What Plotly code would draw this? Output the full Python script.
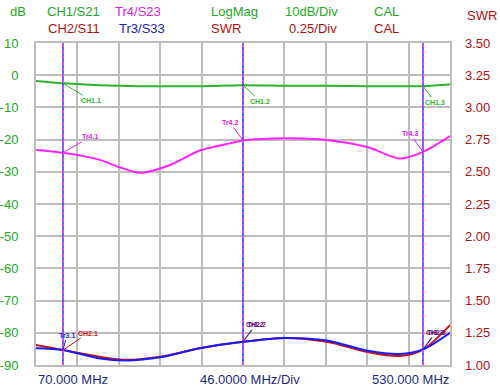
import plotly.graph_objects as go

# ---- data ----
freq_s21 = [70, 100, 140, 185, 250, 300, 347, 393, 439, 500, 530]
s21_db = [-1.8, -2.5, -3.1, -3.4, -3.4, -3.1, -3.3, -3.3, -3.4, -3.4, -2.9]

freq_s23 = [70, 100, 141, 163, 186, 219, 252, 286, 300, 347, 393, 439, 474, 500, 530]
s23_db = [-23.2, -24.1, -26.3, -28.6, -30.3, -27.9, -23.4, -21.1, -20.3, -19.6, -20.1, -22.4, -25.9, -23.8, -18.9]

freq_swr = [70, 100, 141, 171, 208, 252, 300, 347, 393, 439, 474, 500, 530]
s11_swr = [1.155, 1.116, 1.064, 1.04, 1.064, 1.13, 1.18, 1.21, 1.18, 1.10, 1.07, 1.12, 1.31]
s33_swr = [1.13, 1.116, 1.05, 1.035, 1.06, 1.13, 1.18, 1.21, 1.19, 1.11, 1.085, 1.12, 1.25]

marker_freqs = [100, 300, 500]
marker_s21 = [-2.5, -3.1, -3.4]
marker_s23 = [-24.1, -20.3, -23.8]
marker_s11 = [1.116, 1.18, 1.12]
marker_s33 = [1.116, 1.18, 1.12]

db_ticks = [10, 0, -10, -20, -30, -40, -50, -60, -70, -80, -90]
swr_ticks = [3.5, 3.25, 3.0, 2.75, 2.5, 2.25, 2.0, 1.75, 1.5, 1.25, 1.0]

GREEN = "#2db22d"
GREEN_TXT = "#22a822"
MAGENTA = "#ff22ff"
RED = "#cc1111"
RED_TXT = "#b01010"
BLUE = "#1a1aff"
NAVY = "#1a2a80"
GRID = "#bdbdbd"
FONT = "Liberation Sans, Arial, sans-serif"

fig = go.Figure()
fig.add_trace(go.Scatter(x=freq_s21, y=s21_db, mode="lines", line=dict(color=GREEN, width=2, shape="spline", smoothing=0.8), yaxis="y"))
fig.add_trace(go.Scatter(x=freq_s23, y=s23_db, mode="lines", line=dict(color=MAGENTA, width=2, shape="spline", smoothing=0.8), yaxis="y"))
fig.add_trace(go.Scatter(x=freq_swr, y=s11_swr, mode="lines", line=dict(color=RED, width=2, shape="spline", smoothing=0.8), yaxis="y2"))
fig.add_trace(go.Scatter(x=freq_swr, y=s33_swr, mode="lines", line=dict(color=BLUE, width=2, shape="spline", smoothing=0.8), yaxis="y2"))

shapes = []
for f in marker_freqs:
    shapes.append(dict(type="line", xref="x", yref="paper", x0=f, x1=f, y0=0, y1=1,
                       line=dict(color="#4040ee", width=1.6), layer="above"))
    shapes.append(dict(type="line", xref="x", yref="paper", x0=f, x1=f, y0=0, y1=1,
                       line=dict(color="#ee44ee", width=1.6, dash="3px,3px"), layer="above"))

ann = []
def mlabel(x, y, yref, text, color, ax, ay):
    ann.append(dict(x=x, y=y, xref="x", yref=yref, text=text, showarrow=True, arrowhead=0,
                    arrowwidth=1, arrowcolor=color, ax=ax, ay=ay,
                    font=dict(size=7, color=color, family=FONT)))

green_off = [(28, 17), (17, 16), (12, 16)]
for i, f in enumerate(marker_freqs):
    mlabel(f, marker_s21[i], "y", "<b>CH1.%d</b>" % (i + 1), GREEN, *green_off[i])
mag_off = [(27, -16), (-13, -18), (-13, -18)]
for i, f in enumerate(marker_freqs):
    mlabel(f, marker_s23[i], "y", "<b>Tr4.%d</b>" % (i + 1), "#e020e0", *mag_off[i])
red_off = [(25, -17), (13, -17), (13, -17)]
for i, f in enumerate(marker_freqs):
    mlabel(f, marker_s11[i], "y2", "<b>CH2.%d</b>" % (i + 1), RED, *red_off[i])
blue_off = [(4, -15), (12, -17), (12, -17)]
for i, f in enumerate(marker_freqs):
    mlabel(f, marker_s33[i], "y2", "<b>Tr3.%d</b>" % (i + 1), "#2020d0", *blue_off[i])

def txt(x, y, text, color, xanchor="left", size=13):
    ann.append(dict(x=x, y=y, xref="paper", yref="paper", text=text, showarrow=False,
                    xanchor=xanchor, yanchor="middle", font=dict(size=size, color=color, family=FONT)))

# header (paper coords: plot spans x 36..450, y 43..365 px)
def px(xp):
    return (xp - 36) / 414.0
def py(yp):
    return (365 - yp) / 322.0

txt(px(8), py(12), "dB", GREEN_TXT)
txt(px(45), py(12), "CH1/S21", GREEN_TXT)
txt(px(113), py(12), "Tr4/S23", "#e020e0")
txt(px(209), py(12), "LogMag", GREEN_TXT)
txt(px(283), py(12), "10dB/Div", GREEN_TXT)
txt(px(372), py(12), "CAL", GREEN_TXT)
txt(px(46), py(28), "CH2/S11", RED_TXT)
txt(px(117), py(28), "Tr3/S33", "#2020c0")
txt(px(209), py(28), "SWR", RED_TXT)
txt(px(287), py(28), "0.25/Div", RED_TXT)
txt(px(372), py(28), "CAL", RED_TXT)
txt(px(465), py(15), "SWR", RED_TXT)
txt(px(36), py(379), "70.000 MHz", NAVY)
txt(px(198), py(379), "46.0000 MHz/Div", NAVY)
txt(px(451), py(379), "530.000 MHz", NAVY, xanchor="right")

fig.update_layout(
    width=500, height=390,
    margin=dict(l=36, r=50, t=43, b=25, autoexpand=False),
    paper_bgcolor="white", plot_bgcolor="white",
    showlegend=False,
    font=dict(family=FONT),
    xaxis=dict(range=[70, 530], tick0=70, dtick=46, showticklabels=False, showgrid=True,
               gridcolor=GRID, gridwidth=2, zeroline=False, showline=True, mirror=True,
               linecolor=GRID, linewidth=2, ticks="", automargin=False),
    yaxis=dict(range=[-90, 10], tickvals=db_ticks, ticktext=[str(v) for v in db_ticks],
               showgrid=True, gridcolor=GRID, gridwidth=2, zeroline=False, showline=True,
               mirror=True, linecolor=GRID, linewidth=2, ticks="", automargin=False,
               tickfont=dict(size=13, color=GREEN_TXT), ticklabelstandoff=13),
    yaxis2=dict(range=[1, 3.5], overlaying="y", side="right", tickvals=swr_ticks,
                ticktext=["%.2f" % v for v in swr_ticks], showgrid=False, zeroline=False,
                ticks="", automargin=False,
                tickfont=dict(size=13, color=RED_TXT), ticklabelstandoff=14),
    shapes=shapes,
    annotations=ann,
)

fig.write_html("out.html", config={"displayModeBar": False},
               post_script="document.body.style.margin='0';document.body.style.overflow='hidden';")
